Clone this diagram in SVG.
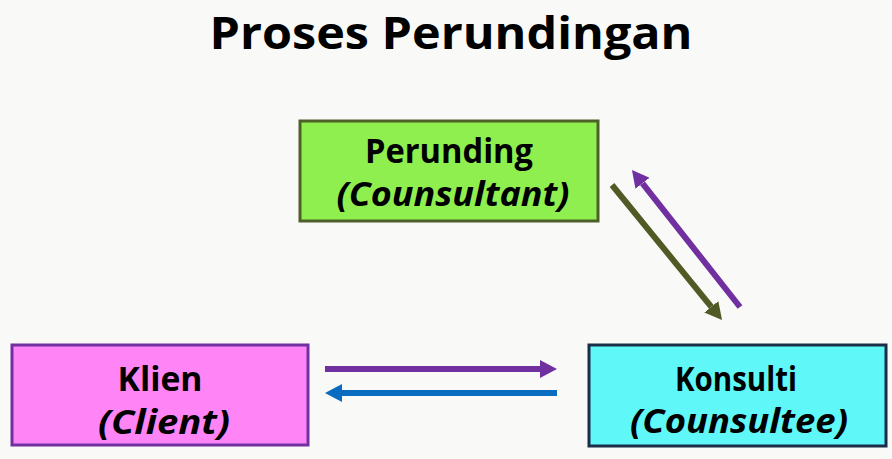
<svg xmlns="http://www.w3.org/2000/svg" width="892" height="459" viewBox="0 0 892 459">
<style>
  .lbl { font-family: "Open Sans", "Liberation Sans", sans-serif; font-weight: 700; font-size: 34px; fill: #000; text-anchor: middle; }
  .it { font-style: italic; }
  .title { font-family: "Open Sans", "Liberation Sans", sans-serif; font-weight: 700; font-size: 45px; fill: #000; text-anchor: middle; }
  .box { stroke-width: 3; }
  .shaft { stroke-width: 6; fill: none; }
</style>
<defs>
  <marker id="hPurple" viewBox="0 0 17 18" refX="0" refY="9" markerWidth="17" markerHeight="18" markerUnits="userSpaceOnUse" orient="auto">
    <path d="M0,0 L17,9 L0,18 z" fill="#7030a0"/>
  </marker>
  <marker id="hBlue" viewBox="0 0 17 18" refX="0" refY="9" markerWidth="17" markerHeight="18" markerUnits="userSpaceOnUse" orient="auto">
    <path d="M0,0 L17,9 L0,18 z" fill="#0a6cc0"/>
  </marker>
  <marker id="hOlive" viewBox="0 0 17 18" refX="0" refY="9" markerWidth="17" markerHeight="18" markerUnits="userSpaceOnUse" orient="auto">
    <path d="M0,0 L17,9 L0,18 z" fill="#4f5a24"/>
  </marker>
</defs>
<rect x="0" y="0" width="892" height="459" fill="#f9f9f7"/>
<text class="title" x="451" y="49" textLength="483" lengthAdjust="spacingAndGlyphs">Proses Perundingan</text>

<g id="perunding">
  <rect class="box" x="300" y="121" width="298" height="100" fill="#8fef4f" stroke="#4f5f2a"/>
  <text class="lbl" x="449" y="163" textLength="168" lengthAdjust="spacingAndGlyphs">Perunding</text>
  <text class="lbl it" x="453" y="206" textLength="233" lengthAdjust="spacingAndGlyphs">(Counsultant)</text>
</g>

<g id="klien">
  <rect class="box" x="12" y="345" width="296" height="100" fill="#ff85f7" stroke="#7030a0"/>
  <text class="lbl" x="160" y="391" textLength="85" lengthAdjust="spacingAndGlyphs">Klien</text>
  <text class="lbl it" x="164" y="434" textLength="132" lengthAdjust="spacingAndGlyphs">(Client)</text>
</g>

<g id="konsulti">
  <rect class="box" x="589" y="345" width="297" height="101" fill="#5ff7f7" stroke="#1a2e4a"/>
  <text class="lbl" x="736" y="391" textLength="122" lengthAdjust="spacingAndGlyphs">Konsulti</text>
  <text class="lbl it" x="739" y="433" textLength="218" lengthAdjust="spacingAndGlyphs">(Counsultee)</text>
</g>

<g id="connectors">
  <line class="shaft" x1="612" y1="185" x2="711.3" y2="306.8" stroke="#4f5a24" marker-end="url(#hOlive)"/>
  <line class="shaft" x1="740" y1="307" x2="642.5" y2="183.3" stroke="#7030a0" marker-end="url(#hPurple)"/>
  <line class="shaft" x1="325" y1="369" x2="540" y2="369" stroke="#7030a0" marker-end="url(#hPurple)"/>
  <line class="shaft" x1="557" y1="393" x2="342" y2="393" stroke="#0a6cc0" marker-end="url(#hBlue)"/>
</g>
</svg>
